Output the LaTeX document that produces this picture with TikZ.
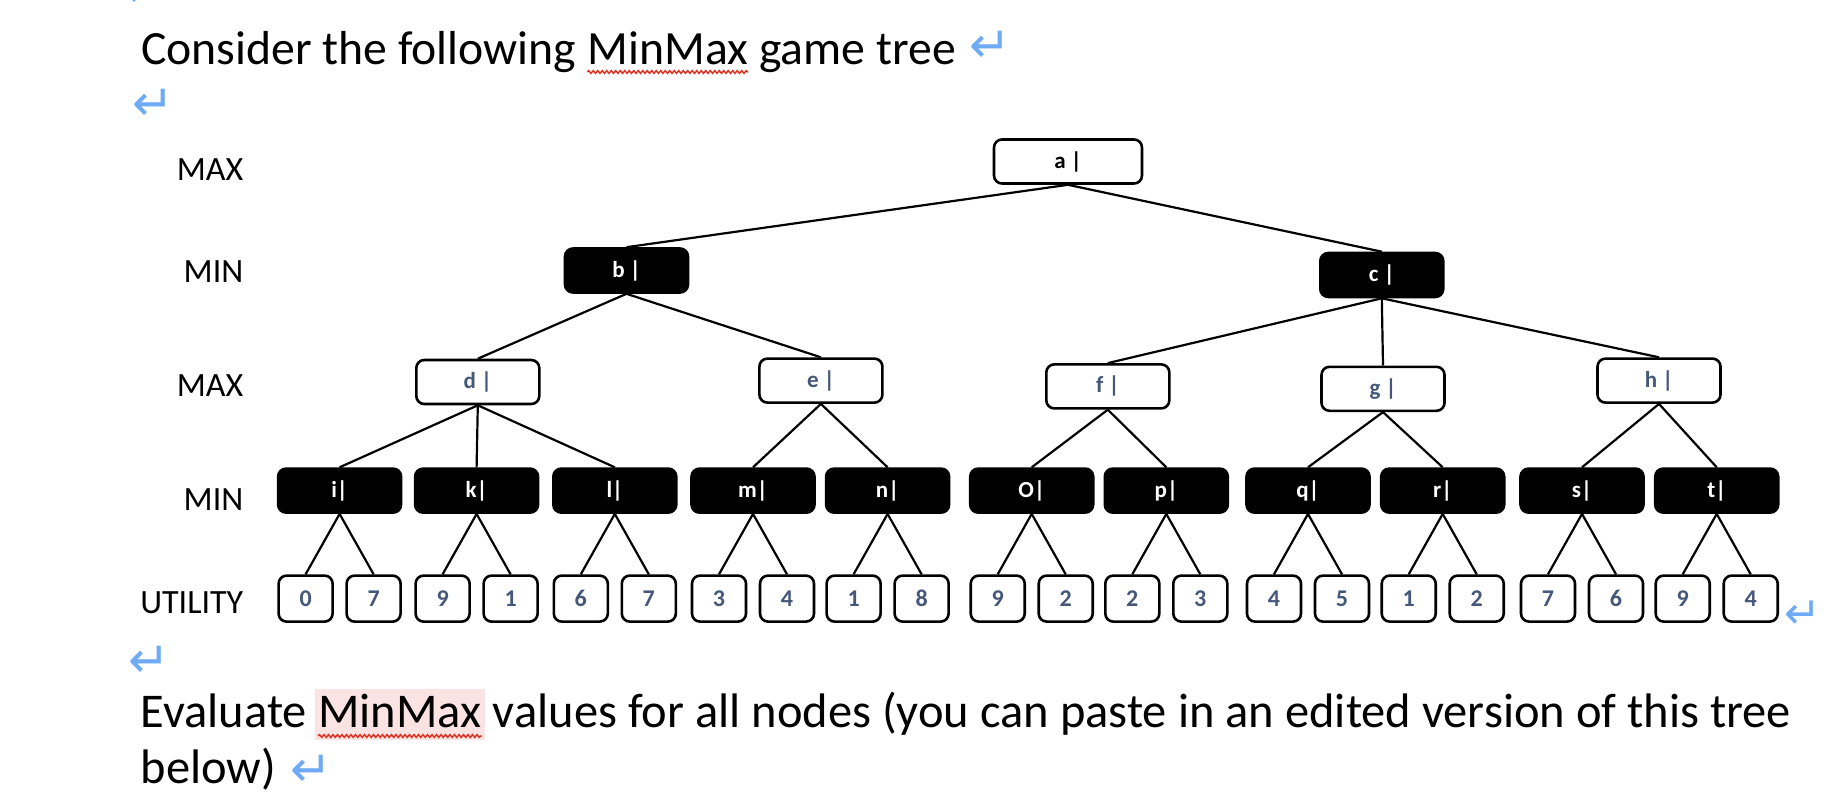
\documentclass[tikz,border=0pt]{standalone}
\usepackage{fontspec}
\setmainfont{Carlito}
\newfontfamily\symfont{DejaVu Sans}
\usetikzlibrary{decorations.pathmorphing,backgrounds}
\definecolor{slate}{HTML}{46587A}
\definecolor{markblue}{HTML}{6FAAF5}
\definecolor{hlpink}{HTML}{FBE3E3}
\definecolor{wavered}{HTML}{E0301E}
\begin{document}
\begin{tikzpicture}[x=1pt,y=-1pt,
  wnode/.style={draw=black, line width=2.6pt, rounded corners=8pt, fill=white,
    minimum width=123pt, minimum height=44pt, inner sep=0pt,
    font=\fontsize{23}{23}\selectfont\bfseries, text=slate},
  bnode/.style={wnode, fill=black, text=white},
  unode/.style={wnode, minimum width=54pt, minimum height=46pt,
    font=\fontsize{24}{24}\selectfont\bfseries},
  lvl/.style={anchor=east, inner sep=0pt, font=\fontsize{34}{34}\selectfont},
  edge/.style={line width=2.2pt},
  ret/.style={text=markblue, font=\symfont\fontsize{50}{50}\selectfont, inner sep=0pt},
  sret/.style={ret, font=\symfont\fontsize{44}{44}\selectfont},
  big/.style={inner sep=0pt, anchor=base west, font=\fontsize{47.7}{57}\selectfont},
  big2/.style={big, font=\fontsize{48.5}{58}\selectfont},
  wave/.style={wavered, line width=1.4pt, decorate,
    decoration={snake, amplitude=1.4pt, segment length=4.5pt}}
]
\useasboundingbox (0,0) rectangle (1836,808);

% ---- title
\node[ret] (r0) at (143,-8) {↵};
\node[big] (t1) at (141,64) {Consider the following\ \null};
\node[big] (t2) at (t1.base east) {MinMax};
\node[big] (t3) at (t2.base east) {\ game tree};
\draw[wave] ([yshift=-8pt]t2.base west) -- ([yshift=-8pt]t2.base east);
\node[ret] (r1) at (990,47) {↵};
\node[ret] (r2) at (153.5,105) {↵};

% ---- level labels
\node[lvl] (L1) at (243.5,170) {MAX};
\node[lvl] (L2) at (243.5,272) {MIN};
\node[lvl] (L3) at (243.5,386) {MAX};
\node[lvl] (L4) at (243.5,500) {MIN};
\node[lvl] (L5) at (243.5,603) {UTILITY};

% ---- tree nodes
\node[wnode, text=black, minimum width=148pt] (a) at (1068,161.5) {a |};
\node[bnode] (b) at (626.5,270.5) {b |};
\node[bnode] (c) at (1381.8,275) {c |};
\node[wnode] (d) at (477.8,382) {d |};
\node[wnode] (e) at (820.9,380.6) {e |};
\node[wnode] (f) at (1107.8,386.4) {f |};
\node[wnode] (g) at (1383,388.8) {g |};
\node[wnode] (h) at (1659,380.6) {h |};

\node[bnode] (i) at (339.6,490.6) {i|};
\node[bnode] (k) at (476.6,490.6) {k|};
\node[bnode] (l) at (614.8,490.6) {l|};
\node[bnode] (m) at (753,490.6) {m|};
\node[bnode] (n) at (887.6,490.6) {n|};
\node[bnode] (o) at (1031.7,490.6) {O|};
\node[bnode] (p) at (1166.3,490.6) {p|};
\node[bnode] (q) at (1308,490.6) {q|};
\node[bnode] (r) at (1442.7,490.6) {r|};
\node[bnode] (s) at (1582,490.6) {s|};
\node[bnode] (t) at (1716.7,490.6) {t|};

\foreach \p/\v/\w in {i/0/7, k/9/1, l/6/7, m/3/4, n/1/8, o/9/2, p/2/3, q/4/5, r/1/2, s/7/6, t/9/4}{
  \node[unode] (\p1) at ([xshift=-34pt,yshift=-108pt]\p.center) {\v};
  \node[unode] (\p2) at ([xshift=34pt,yshift=-108pt]\p.center) {\w};
  \draw[edge] (\p.south) -- (\p1.north);
  \draw[edge] (\p.south) -- (\p2.north);
}

% ---- edges
\draw[edge] (a.south) -- (b.north);
\draw[edge] (a.south) -- (c.north);
\draw[edge] (b.south) -- (d.north);
\draw[edge] (b.south) -- (e.north);
\draw[edge] (c.south) -- (f.north);
\draw[edge] (c.south) -- (g.north);
\draw[edge] (c.south) -- (h.north);
\draw[edge] (d.south) -- (i.north);
\draw[edge] (d.south) -- (k.north);
\draw[edge] (d.south) -- (l.north);
\draw[edge] (e.south) -- (m.north);
\draw[edge] (e.south) -- (n.north);
\draw[edge] (f.south) -- (o.north);
\draw[edge] (f.south) -- (p.north);
\draw[edge] (g.south) -- (q.north);
\draw[edge] (g.south) -- (r.north);
\draw[edge] (h.south) -- (s.north);
\draw[edge] (h.south) -- (t.north);

\node[sret] (r3) at (1803,615) {↵};
\node[ret] (r4) at (149,662) {↵};

% ---- bottom text
\node[big2] (b1) at (140.5,727) {Evaluate\ \null};
\node[big2] (b2) at (b1.base east) {MinMax};
\node[big2] (b3) at (b2.base east) {\ values for all nodes (you can paste in an edited version of this tree};
\begin{scope}[on background layer]
\fill[hlpink] ([xshift=-3pt,yshift=38pt]b2.base west) rectangle ([xshift=3pt,yshift=-13pt]b2.base east);
\end{scope}
\draw[wave] ([yshift=-9pt]b2.base west) -- ([yshift=-9pt]b2.base east);
\node[big2] (b4) at (140.5,783) {below)\ \null};
\node[ret] (r5) at ([xshift=24pt,yshift=12pt]b4.base east) {↵};
\end{tikzpicture}
\end{document}
